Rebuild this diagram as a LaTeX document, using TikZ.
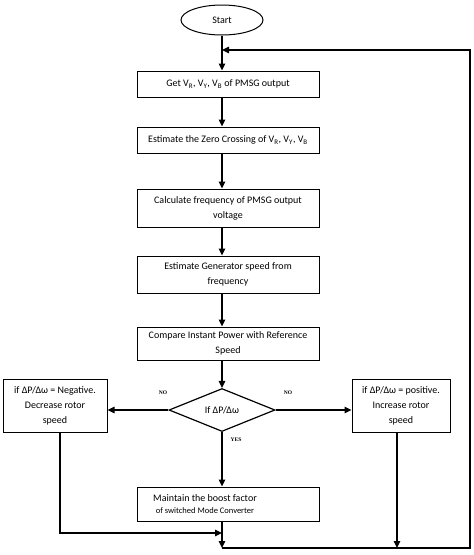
\documentclass[tikz,border=0pt]{standalone}
\usepackage{fontspec}
\setmainfont{Carlito}
\newfontfamily\labelfont{Liberation Serif}
\usetikzlibrary{shapes.geometric,arrows.meta}
\begin{document}
\begin{tikzpicture}[x=1pt,y=-1pt,
  thick,main node/.style={rectangle,draw,line width=1pt,font=\fontsize{10}{15}\selectfont,align=center,minimum width=182pt,inner sep=2pt},
  side node/.style={main node,minimum width=100pt,minimum height=53pt},
  decision node/.style={diamond,draw,line width=1.2pt,font=\fontsize{10}{15}\selectfont,minimum width=106pt,minimum height=43pt,inner sep=0pt},
  start node/.style={ellipse,draw,line width=1pt,font=\fontsize{10}{15}\selectfont,minimum width=82pt,minimum height=30pt},
  tag/.style={font=\labelfont\bfseries\fontsize{5.5}{6}\selectfont},
  flow/.style={line width=1.5pt,-{Triangle[length=7pt,width=6.5pt]}},
  line/.style={line width=1.2pt}]
  \useasboundingbox (0,0) rectangle (474,555);

  \node[start node] (start) at (222,20) {Start};
  \node[main node,minimum height=26pt] (get) at (228,84) {Get V\textsubscript{R}, V\textsubscript{Y}, V\textsubscript{B} of PMSG output};
  \node[main node,minimum height=26pt] (zero) at (228,140) {Estimate the Zero Crossing of V\textsubscript{R}, V\textsubscript{Y}, V\textsubscript{B}};
  \node[main node,minimum height=38pt] (freq) at (228,208) {Calculate frequency of PMSG output\\voltage};
  \node[main node,minimum height=37pt] (speed) at (228,274.5) {Estimate Generator speed from\\frequency};
  \node[main node,minimum height=33pt] (comp) at (228,343.5) {Compare Instant Power with Reference\\Speed};
  \node[decision node] (dec) at (222,410) {If ΔP/Δω};
  \node[side node,minimum width=104pt] (neg) at (55,405.5) {if ΔP/Δω = Negative.\\Decrease rotor\\speed};
  \node[side node,minimum width=98pt] (pos) at (401,405.5) {if ΔP/Δω = positive.\\Increase rotor\\speed};
  \node[main node,minimum height=34pt,font=\fontsize{10}{12.5}\selectfont] (keep) at (228,504) {Maintain the boost factor\hspace*{46pt}\\{\fontsize{8.5}{10}\selectfont of switched Mode Converter}\hspace*{46pt}};

  \node[tag] (no1) at (163,393) {NO};
  \node[tag] (no2) at (288,393) {NO};
  \node[tag] (yes) at (236,440) {YES};

  \coordinate (top) at (222,50);
  \coordinate (join) at (222,548);
  \coordinate (merge) at (222,533);
  \coordinate (corner) at (470,548);

  % main chain
  \draw[flow] (start.south) -- (start.south |- get.north);
  \draw[flow] (get.south -| start) -- (zero.north -| start);
  \draw[flow] (zero.south -| start) -- (freq.north -| start);
  \draw[flow] (freq.south -| start) -- (speed.north -| start);
  \draw[flow] (speed.south -| start) -- (comp.north -| start);
  \draw[flow] (comp.south -| start) -- (dec.north);
  \draw[flow] (dec.west) -- (neg.east |- dec);
  \draw[flow] (dec.east) -- (pos.west |- dec);
  \draw[flow] (dec.south) -- (keep.north -| dec);

  % back to the top
  \draw[flow] (keep.south -| join) -- (join);
  \draw[line,-{Triangle[length=7pt,width=6.5pt]}] (neg.south -| 60,0) |- (merge);
  \draw[flow] (pos.south -| 397,0) -- (397,548);
  \draw[line,-{Triangle[length=7pt,width=6.5pt]}] (join) -- (corner) -- (corner |- top) -- (top);
\end{tikzpicture}
\end{document}
